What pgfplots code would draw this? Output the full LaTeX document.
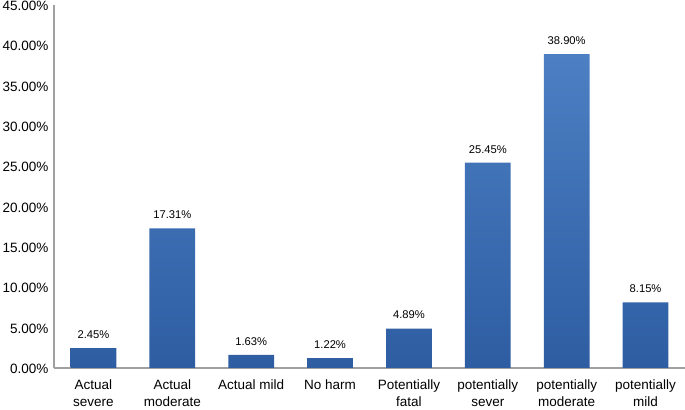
\documentclass[border=0pt]{standalone}
\usepackage{pgfplots}
\pgfplotsset{compat=1.18}
\usepackage{fontspec}
\setmainfont{Liberation Sans}
\definecolor{bartop}{RGB}{76,127,195}
\definecolor{barbot}{RGB}{46,93,162}
\definecolor{axgray}{RGB}{160,160,160}

\begin{document}
\begin{tikzpicture}
\begin{axis}[
    scale only axis,
    width=631pt,
    height=363pt,
    ymin=0, ymax=45,
    ytick={0,5,...,45},
    yticklabel={\pgfmathprintnumber[fixed,fixed zerofill,precision=2]{\tick}\%},
    xmin=-0.5, xmax=7.5,
    xtick=data,
    xticklabels={{Actual\\severe},{Actual\\moderate},{Actual mild},{No harm},{Potentially\\fatal},{potentially\\sever},{potentially\\moderate},{potentially\\mild}},
    x tick label style={align=center, anchor=north, font=\fontsize{13.5}{17}\selectfont, yshift=-8pt},
    y tick label style={font=\fontsize{13.5}{16}\selectfont, xshift=-2pt, yshift=-1pt},
    /pgf/number format/assume math mode=true,
    major tick length=0pt,
    axis x line=bottom,
    axis y line=left,
    axis line style={-, draw=axgray, line width=1.2pt},
    ybar,
    bar width=0.58,
    nodes near coords={\pgfmathprintnumber[fixed,fixed zerofill,precision=2]{\pgfplotspointmeta}\%},
    nodes near coords style={font=\fontsize{11.2}{13}\selectfont, yshift=6pt},
]
\addplot[draw=none, top color=bartop, bottom color=barbot] coordinates {
    (0, 2.45)
    (1, 17.31)
    (2, 1.63)
    (3, 1.22)
    (4, 4.89)
    (5, 25.45)
    (6, 38.90)
    (7, 8.15)
};
\end{axis}
\pgfresetboundingbox
\useasboundingbox ([xshift=-54pt,yshift=-42pt]current axis.south west) rectangle ([yshift=5pt]current axis.north east);
\end{tikzpicture}
\end{document}
